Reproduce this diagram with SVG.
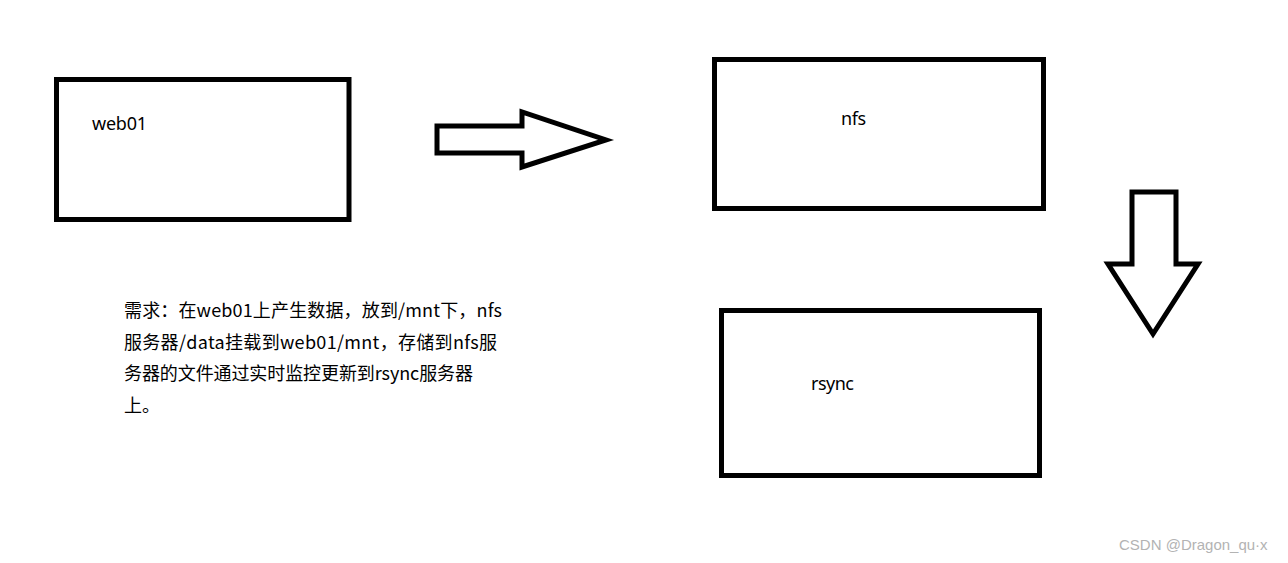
<svg xmlns="http://www.w3.org/2000/svg" width="1288" height="563" viewBox="0 0 1288 563">
<style>
.box{fill:none;stroke:#000;stroke-width:5}
.arr{fill:#fff;stroke:#000;stroke-width:5;stroke-linejoin:miter}
.lbl{font-family:"Noto Sans","Noto Sans CJK SC",sans-serif;font-size:18px;fill:#000}
.para{font-family:"Noto Sans CJK SC","Noto Sans",sans-serif;font-size:18px;fill:#000}
.wm{font-family:"Liberation Sans","Noto Sans",sans-serif;font-size:15px;fill:#b3b3b3}
</style>
<rect width="1288" height="563" fill="#fff"/>
<g id="web01">
<rect class="box" x="56.5" y="79.5" width="292.5" height="140"/>
<text class="lbl" x="92" y="130" textLength="55">web01</text>
</g>
<g id="nfs">
<rect class="box" x="714.5" y="59.5" width="329" height="149"/>
<text class="lbl" x="841" y="125" textLength="25">nfs</text>
</g>
<g id="rsync">
<rect class="box" x="721.5" y="310.5" width="318" height="165"/>
<text class="lbl" x="811" y="390" textLength="43">rsync</text>
</g>
<g id="connectors">
<polygon class="arr" points="437,126 522,126 522,112 606,140 522,167 522,153 437,153"/>
<polygon class="arr" points="1132,192 1176,192 1176,264 1198,264 1153,334 1108,264 1132,264"/>
</g>
<g id="note">
<text class="para" x="124" y="317" textLength="378">需求：在web01上产生数据，放到/mnt下，nfs</text>
<text class="para" x="124" y="348.5" textLength="373">服务器/data挂载到web01/mnt，存储到nfs服</text>
<text class="para" x="124" y="380" textLength="349">务器的文件通过实时监控更新到rsync服务器</text>
<text class="para" x="124" y="411.5">上。</text>
</g>
<text class="wm" x="1119" y="550">CSDN @Dragon_qu·x</text>
</svg>
